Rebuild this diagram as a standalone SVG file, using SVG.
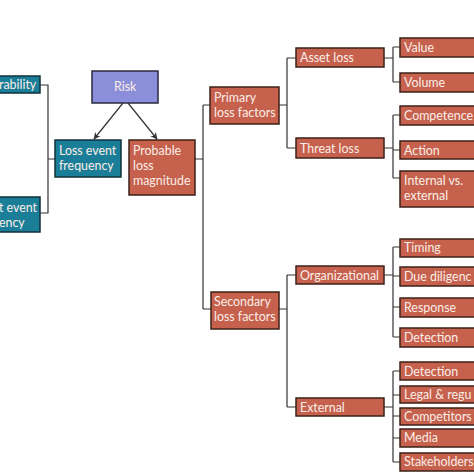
<svg xmlns="http://www.w3.org/2000/svg" width="474" height="474" viewBox="0 0 474 474">
<defs>
<marker id="ah" viewBox="0 0 10 10" refX="9" refY="5" markerWidth="7" markerHeight="7" orient="auto-start-reverse" markerUnits="userSpaceOnUse">
<path d="M0,0 L10,5 L0,10 L3,5 Z" fill="#333"/>
</marker>
</defs>
<style>
.r{fill:#c6614d;stroke:#3d2219;stroke-width:1.5}
.t{fill:#1b7e98;stroke:#10323c;stroke-width:1.5}
.b{fill:#8b8fd9;stroke:#2a2a40;stroke-width:1.5}
text{font-family:Lato,"Open Sans",sans-serif;font-size:12.4px;fill:#fbeee8}
.c{fill:none;stroke:#333;stroke-width:1.2}
</style>
<rect width="474" height="474" fill="#fff"/>
<g id="connectors" class="c">
<path d="M40,85 H48 V213 H40 M48,159 H55"/>
<path d="M123,103 L94,139" marker-end="url(#ah)"/>
<path d="M128,103 L157,139" marker-end="url(#ah)"/>
<path d="M195,159 H203 M203,105 V309 M203,105 H210 M203,309 H211"/>
<path d="M279,105 H287 M287,58 V148 M287,58 H296 M287,148 H296"/>
<path d="M384,58 H393 M393,47 V82 M393,47 H400 M393,82 H400"/>
<path d="M384,148 H393 M393,115 V178 M393,115 H400 M393,150 H400 M393,178 H400"/>
<path d="M279,309 H287 M287,275 V407 M287,275 H296 M287,407 H296"/>
<path d="M384,275 H393 M393,247 V337 M393,247 H400 M393,276 H400 M393,307 H400 M393,337 H400"/>
<path d="M384,407 H393 M393,371 V462 M393,371 H400 M393,395 H400 M393,416 H400 M393,438 H400 M393,462 H400"/>
</g>
<g id="vulnerability"><rect class="t" x="-2" y="76" width="42" height="17"/><text x="-1" y="89">rability</text></g>
<g id="threat-event-frequency"><rect class="t" x="-2" y="197" width="42" height="35"/><text x="-1" y="212">t event</text><text x="-1" y="227">ency</text></g>
<g id="risk"><rect class="b" x="92" y="71" width="66" height="32"/><text x="114" y="91">Risk</text></g>
<g id="loss-event-frequency"><rect class="t" x="55" y="140" width="66" height="37"/><text x="59" y="155">Loss event</text><text x="59" y="170">frequency</text></g>
<g id="probable-loss-magnitude"><rect class="r" x="129" y="140" width="66" height="55"/><text x="133" y="155">Probable</text><text x="133" y="170">loss</text><text x="133" y="185">magnitude</text></g>
<g id="primary"><rect class="r" x="210" y="87" width="69" height="37"/><text x="214" y="102">Primary</text><text x="214" y="117">loss factors</text></g>
<g id="secondary"><rect class="r" x="211" y="292" width="68" height="37"/><text x="214" y="306">Secondary</text><text x="214" y="321">loss factors</text></g>
<g id="asset-loss"><rect class="r" x="296" y="48" width="88" height="19"/><text x="300" y="62">Asset loss</text></g>
<g id="threat-loss"><rect class="r" x="296" y="138" width="88" height="20"/><text x="300" y="153">Threat loss</text></g>
<g id="organizational"><rect class="r" x="296" y="266" width="88" height="18"/><text x="300" y="280">Organizational</text></g>
<g id="external"><rect class="r" x="296" y="398" width="88" height="18"/><text x="300" y="412">External</text></g>
<g id="value"><rect class="r" x="400" y="38" width="80" height="19"/><text x="404" y="52">Value</text></g>
<g id="volume"><rect class="r" x="400" y="73" width="80" height="19"/><text x="404" y="87">Volume</text></g>
<g id="competence"><rect class="r" x="400" y="106" width="80" height="19"/><text x="404" y="120">Competence</text></g>
<g id="action"><rect class="r" x="400" y="141" width="80" height="18"/><text x="404" y="155">Action</text></g>
<g id="internal-external"><rect class="r" x="400" y="171" width="80" height="36"/><text x="404" y="185">Internal vs.</text><text x="404" y="200">external</text></g>
<g id="timing"><rect class="r" x="400" y="239" width="80" height="18"/><text x="404" y="252">Timing</text></g>
<g id="due-diligence"><rect class="r" x="400" y="267" width="80" height="19"/><text x="404" y="281">Due diligenc</text></g>
<g id="response"><rect class="r" x="400" y="298" width="80" height="19"/><text x="404" y="312">Response</text></g>
<g id="detection-org"><rect class="r" x="400" y="328" width="80" height="19"/><text x="404" y="342">Detection</text></g>
<g id="detection-ext"><rect class="r" x="400" y="362" width="80" height="18"/><text x="404" y="376">Detection</text></g>
<g id="legal"><rect class="r" x="400" y="386" width="80" height="17"/><text x="404" y="399">Legal &amp; regu</text></g>
<g id="competitors"><rect class="r" x="400" y="408" width="80" height="17"/><text x="404" y="421">Competitors</text></g>
<g id="media"><rect class="r" x="400" y="429" width="80" height="18"/><text x="404" y="442">Media</text></g>
<g id="stakeholders"><rect class="r" x="400" y="453" width="80" height="18"/><text x="404" y="466">Stakeholders</text></g>
</svg>
